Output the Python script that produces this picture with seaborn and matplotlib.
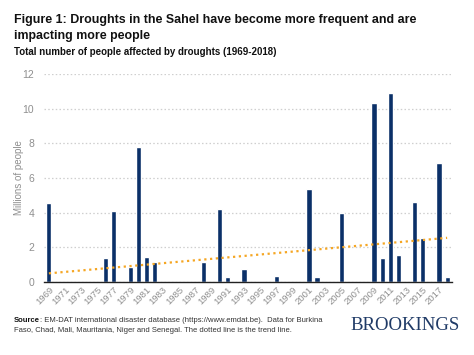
import numpy as np
import pandas as pd
import matplotlib
matplotlib.use("Agg")
import matplotlib.pyplot as plt
import seaborn as sns

years = list(range(1969, 2019))
affected = [4.54, 0, 0, 0, 0, 0, 0, 1.38, 4.11, 0,
            0.88, 7.80, 1.46, 1.17, 0, 0, 0, 0, 0, 1.17,
            0, 4.19, 0.27, 0, 0.73, 0, 0.05, 0, 0.35, 0,
            0, 0, 5.35, 0.27, 0, 0, 3.96, 0, 0, 0,
            10.30, 1.38, 10.92, 1.56, 0, 4.60, 2.56, 0, 6.88, 0.31]
tick_labels = [str(y) for y in range(1969, 2018, 2)]

title = "Figure 1: Droughts in the Sahel have become more frequent and are\nimpacting more people"
subtitle = "Total number of people affected by droughts (1969-2018)"
ylabel = "Millions of people"
source_bold = "Source"
source_rest = ": EM-DAT international disaster database (https://www.emdat.be).  Data for Burkina"
source_line2 = "Faso, Chad, Mali, Mauritania, Niger and Senegal. The dotted line is the trend line."

df = pd.DataFrame({"year": [str(y) for y in years], "value": affected})

sns.set_theme(style="white")
plt.rcParams['font.family'] = ['Liberation Sans', 'DejaVu Sans']

fig = plt.figure(figsize=(4.74, 3.55), dpi=100)
ax = fig.add_axes([44/474, 1-282/355, (452-44)/474, (282-74)/355])

bar_color = "#0b3068"
sns.barplot(data=df, x="year", y="value", color=bar_color, width=0.64,
            saturation=1, ax=ax, zorder=2)

# trend line (least squares fit)
xs = np.arange(len(years))
coef = np.polyfit(xs, affected, 1)
ax.plot(xs, np.polyval(coef, xs), linestyle=(0, (1, 1.6)), color="#f5a623",
        linewidth=1.6, zorder=3)

ax.set_ylim(0, 12)
ax.set_xlim(-0.6, 49.6)
ax.set_yticks(range(0, 13, 2))
ax.set_xticks(range(0, 50, 2))
ax.set_xticklabels(tick_labels, rotation=45, ha="right", rotation_mode="anchor",
                   fontsize=6.8, color="#8f8f8f")
ax.tick_params(axis="y", labelsize=7.5, colors="#8f8f8f", length=0, pad=7)
ax.tick_params(axis="x", length=0, pad=2)
ax.yaxis.grid(True, linestyle=(0, (1.2, 1.8)), color="#cfcfcf", linewidth=0.9, zorder=0)
ax.set_axisbelow(True)
for s in ["left", "right", "top"]:
    ax.spines[s].set_visible(False)
ax.spines["bottom"].set_color("#222222")
ax.spines["bottom"].set_linewidth(1.0)
ax.set_xlabel("")
ax.set_ylabel(ylabel, fontsize=7, color="#8f8f8f")
ax.yaxis.set_label_coords(-0.05, 0.5)

fig.text(14/474, 1-14/355, title, fontsize=8.9, fontweight="bold", color="#111111",
         va="top", ha="left", linespacing=1.5)
fig.text(14/474, 1-47/355, subtitle, fontsize=7.0, fontweight="bold", color="#111111",
         va="top", ha="left")

fs = 5.5
t1 = fig.text(14/474, 1-320/355, source_bold, fontsize=fs, fontweight="bold",
              color="#111111", va="center", ha="left")
fig.canvas.draw()
bb = t1.get_window_extent(fig.canvas.get_renderer())
fig.text((bb.x1 - 0.5)/474, 1-320/355, source_rest, fontsize=fs, color="#333333",
         va="center", ha="left")
fig.text(14/474, 1-331/355, source_line2, fontsize=fs, color="#333333",
         va="center", ha="left")
fig.text(460/474, 1-325/355, "BROOKINGS", fontsize=13.5, color="#1f3a66",
         family=["Liberation Serif", "DejaVu Serif"], va="center", ha="right")

fig.savefig("out.png", dpi=100, facecolor="white")
